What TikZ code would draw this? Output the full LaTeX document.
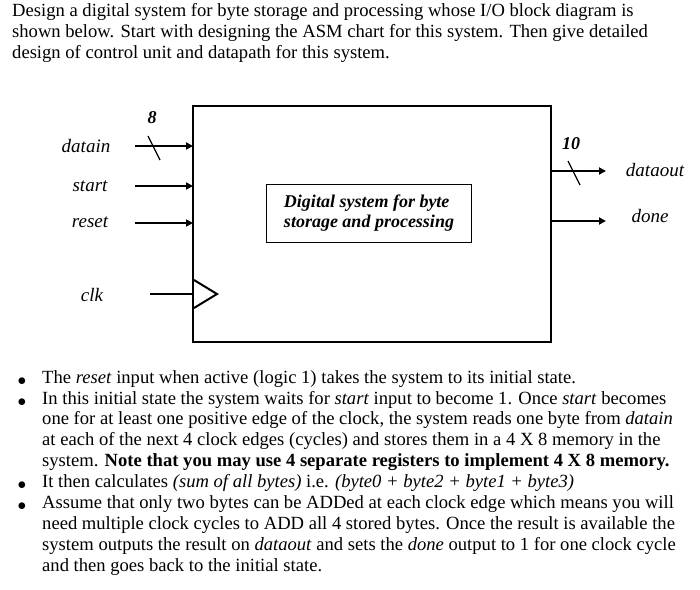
\documentclass[tikz,border=0pt]{standalone}
\usepackage{fontspec}
\setmainfont{Liberation Serif}
\usetikzlibrary{arrows.meta}
\begin{document}
\begin{tikzpicture}[x=1pt,y=-1pt,
  sig/.style={line width=2pt,-{Triangle[length=7pt,width=7pt]}},
  lab/.style={font=\fontsize{19}{22}\selectfont\itshape},
  para/.style={anchor=north west,align=left,inner sep=0pt,font=\fontsize{18.6}{20.9}\selectfont},
  bul/.style={font=\fontsize{16}{18}\selectfont}]
\useasboundingbox (0,0) rectangle (700,589);
\node[para] (hdr) at (12,3) {Design a digital system for byte storage and processing whose I/O block diagram is\\
shown below. Start with designing the ASM chart for this system. Then give detailed\\
design of control unit and datapath for this system.};
% main box
\draw[line width=2pt] (193,106) rectangle (551,342);
\node[draw,line width=0.8pt,minimum width=205pt,minimum height=58pt,align=left,
  font=\fontsize{18}{20}\selectfont\bfseries\itshape] (core) at (369,213)
  {Digital system for byte\\storage and processing};
\coordinate (bl) at (193,146); \coordinate (bs) at (193,186); \coordinate (br) at (193,223);
\coordinate (bc) at (193,294);
\coordinate (rd) at (551,171); \coordinate (rn) at (551,221);
\coordinate (ed) at (606,171); \coordinate (en) at (606,221);
\coordinate (sd) at (135,146); \coordinate (ss) at (135,186); \coordinate (sr) at (135,223);
\coordinate (sc) at (150,294);
\draw[sig] (sd) -- (bl);
\draw[sig] (ss) -- (bs);
\draw[sig] (sr) -- (br);
\draw[line width=2pt] (sc) -- (bc);
\draw[line width=2pt] (194,280) -- (217,294) -- (194,308);
\draw[sig] (rd) -- (ed);
\draw[sig] (rn) -- (en);
\draw[line width=1.2pt] (148,136) -- (160,160);
\draw[line width=1.2pt] (568,161) -- (580,185);
\node[lab,font=\fontsize{18}{20}\selectfont\bfseries\itshape] (n8) at (152,118) {8};
\node[lab,font=\fontsize{18}{20}\selectfont\bfseries\itshape] (n10) at (571,144) {10};
\node[lab] (ldatain) at (86,146) {datain};
\node[lab] (lstart) at (90,186) {start};
\node[lab] (lreset) at (90,222) {reset};
\node[lab] (lclk) at (92,295) {clk};
\node[lab] (ldataout) at (655,170) {dataout};
\node[lab] (ldone) at (650,216) {done};
% bullets
\foreach \y in {382,403,486,507}{\node[bul] at (22,\y) {$\bullet$};}
\node[para] (b1) at (42,370) {The \textit{reset} input when active (logic 1) takes the system to its initial state.\\
In this initial state the system waits for \textit{start} input to become 1. Once \textit{start} becomes\\
one for at least one positive edge of the clock, the system reads one byte from \textit{datain}\\
at each of the next 4 clock edges (cycles) and stores them in a 4 X 8 memory in the\\
system. \textbf{Note that you may use 4 separate registers to implement 4 X 8 memory.}\\
It then calculates \textit{(sum of all bytes)} i.e. \textit{(byte0 + byte2 + byte1 + byte3)}\\
Assume that only two bytes can be ADDed at each clock edge which means you will\\
need multiple clock cycles to ADD all 4 stored bytes. Once the result is available the\\
system outputs the result on \textit{dataout} and sets the \textit{done} output to 1 for one clock cycle\\
and then goes back to the initial state.};
\end{tikzpicture}
\end{document}
